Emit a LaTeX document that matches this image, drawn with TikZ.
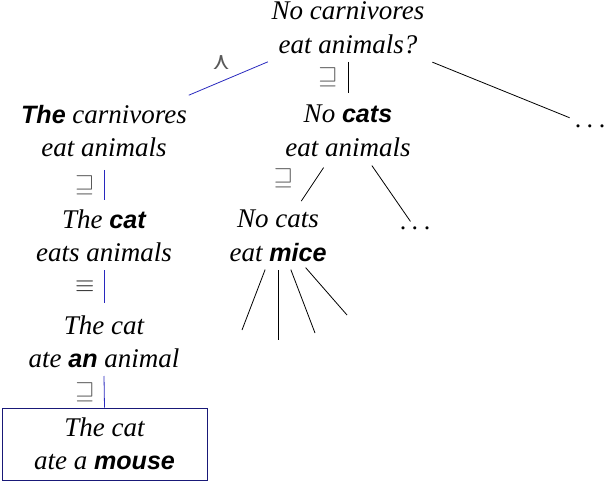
\documentclass[tikz,border=0pt]{standalone}
\usepackage{amssymb}
\usepackage{fontspec}
\setmainfont{Liberation Serif}
\newfontfamily\bsans[Scale=0.93]{Liberation Sans}
\newfontfamily\djv{DejaVu Sans}
\newcommand{\hl}[1]{{\bsans\bfseries\itshape #1}}
\newcommand{\mydots}{.\kern5.5pt.\kern5.5pt.}
\definecolor{edgeblue}{RGB}{40,40,190}
\definecolor{boxnavy}{RGB}{25,25,120}
\tikzset{
  sent/.style={align=center, font=\fontsize{27}{33.5}\selectfont\itshape, inner sep=0pt},
  dots/.style={font=\fontsize{26}{33}\selectfont, inner sep=0pt},
  rel/.style={font=\fontsize{31}{32}\selectfont, text=black!65, inner sep=0pt},
  bl/.style={draw=edgeblue, line width=0.8pt},
  kl/.style={draw=black, line width=0.8pt},
}
\begin{document}
\begin{tikzpicture}[x=1pt,y=-1pt]
\useasboundingbox (0,0) rectangle (608,484);
\node[sent] (top) at (348,28) {No carnivores\\eat animals?};
\node[sent] (left) at (104,131) {\hl{The} carnivores\\eat animals};
\node[sent] (mid) at (348,131) {No \hl{cats}\\eat animals};
\node[dots] (dr) at (590,126) {\mydots};
\node[sent] (mice) at (278,236) {No cats\\eat \hl{mice}};
\node[dots] (dm) at (415,228) {\mydots};
\node[sent] (cat) at (104,236) {The \hl{cat}\\eats animals};
\node[sent] (an) at (104,342) {The cat\\ate \hl{an} animal};
\node[sent, draw=boxnavy, line width=0.8pt, minimum width=205pt, minimum height=72pt] (mouse) at (104.5,444) {The cat\\ate a \hl{mouse}};
\coordinate (c1) at (242,330);
\coordinate (c2) at (278,340);
\coordinate (c3) at (315,333);
\coordinate (c4) at (347,315);

\draw[bl, shorten <=87pt, shorten >=92pt] (top.center) -- node[rel, pos=0.52, above=12pt, font=\fontsize{24}{26}\selectfont] {\djv ⋏} (left.center);
\draw[kl] ([yshift=-34pt]top.center) -- node[rel, left=10pt] {$\sqsupseteq$} ([yshift=38pt]mid.center);
\draw[kl, shorten <=91pt, shorten >=22pt] (top.center) -- (dr.center);
\draw[kl, shorten <=44pt, shorten >=42pt] (mid.center) -- node[rel, left=23pt, pos=0.45] {$\sqsupseteq$} (mice.center);
\draw[kl, shorten <=42pt, shorten >=8pt] (mid.center) -- (dm.center);
\draw[kl, shorten <=36pt] (mice.center) -- (c1);
\draw[kl, shorten <=34pt] (mice.center) -- (c2);
\draw[kl, shorten <=36pt] (mice.center) -- (c3);
\draw[kl, shorten <=42pt] (mice.center) -- (c4);
\draw[bl] ([yshift=-39pt]left.center) -- node[rel, left=9pt] {$\sqsupseteq$} ([yshift=36pt]cat.center);
\draw[bl] ([yshift=-34pt]cat.center) -- node[rel, left=9pt, text=black!85] {$\equiv$} ([yshift=39pt]an.center);
\draw[bl] ([yshift=-34pt]an.center) -- node[rel, left=9pt] {$\sqsupseteq$} (mouse.north);
\end{tikzpicture}
\end{document}
